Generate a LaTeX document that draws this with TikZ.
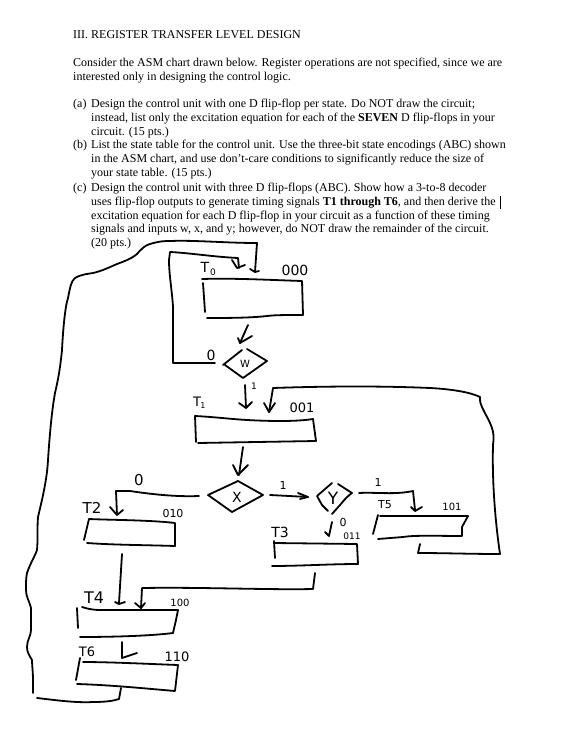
\documentclass[tikz,border=0pt]{standalone}
\usepackage{fontspec}
\setmainfont{Liberation Serif}
\setsansfont{DejaVu Sans}
\begin{document}
\begin{tikzpicture}[x=1pt,y=-1pt,
  ink/.style={line width=1.8pt,line cap=round,line join=round,black},
  txt/.style={anchor=base west,inner sep=0pt,font=\fontsize{12}{14}\selectfont,text=black},
  hand/.style={inner sep=0pt,text=black,font=\fontsize{#1}{#1}\sffamily},
  hand/.default=10]
\useasboundingbox (0,0) rectangle (580,746);
\fill[white] (0,0) rectangle (580,746);
\node[txt] (t1) at (73,39) {III. REGISTER TRANSFER LEVEL DESIGN};
\node[txt] (t2) at (73,67) {Consider the ASM chart drawn below. Register operations are not specified, since we are};
\node[txt] (t3) at (73,81) {interested only in designing the control logic.};
\node[txt] (a0) at (73,108) {(a)};
\node[txt] (a1) at (91,108) {Design the control unit with one D flip-flop per state. Do NOT draw the circuit;};
\node[txt] (a2) at (91,122) {instead, list only the excitation equation for each of the \textbf{SEVEN} D flip-flops in your};
\node[txt] (a3) at (91,135.5) {circuit. (15 pts.)};
\node[txt] (b0) at (73,149) {(b)};
\node[txt] (b1) at (91,149) {List the state table for the control unit. Use the three-bit state encodings (ABC) shown};
\node[txt] (b2) at (91,163) {in the ASM chart, and use don’t-care conditions to significantly reduce the size of};
\node[txt] (b3) at (91,177) {your state table. (15 pts.)};
\node[txt] (c0) at (73,191) {(c)};
\node[txt] (c1) at (91,191) {Design the control unit with three D flip-flops (ABC). Show how a 3-to-8 decoder};
\node[txt] (c2) at (91,205) {uses flip-flop outputs to generate timing signals \textbf{T1 through T6}, and then derive the};
\node[txt] (c3) at (91,219) {excitation equation for each D flip-flop in your circuit as a function of these timing};
\node[txt] (c4) at (91,232) {signals and inputs w, x, and y; however, do NOT draw the remainder of the circuit.};
\node[txt] (c5) at (91,246) {(20 pts.)};
\draw[line width=.7pt] (500,196) -- (500,209);
% outer left loop
\draw[ink] (33,693) -- (33,680) .. controls (33,672) and (32,665) .. (32,660) .. controls (29,655) and (27,652) .. (27,647) .. controls (27,640) and (31,636) .. (31,630) -- (31,608) .. controls (29,600) and (26,597) .. (26,590) .. controls (26,582) and (26,578) .. (27,573) .. controls (30,564) and (35,556) .. (37,550) .. controls (38,540) and (37,530) .. (38,517) .. controls (42,500) and (47,480) .. (48,460) .. controls (50,430) and (52,410) .. (55,393) .. controls (58,380) and (60,370) .. (62,350) .. controls (63,330) and (65,307) .. (68,298) .. controls (70,288) and (71,281) .. (75,278) .. controls (82,274) and (88,274) .. (93,273) .. controls (102,271) and (110,267) .. (117,264) .. controls (125,261) and (131,259) .. (137,254) .. controls (142,248) and (146,245) .. (150,244) .. controls (160,241) and (165,241) .. (170,241) .. controls (195,240) and (225,243) .. (257,243) -- (255,272);
\draw[ink] (250,269) -- (255,272) -- (259,271);
\draw[ink] (37,698) .. controls (55,700) and (75,703) .. (93,702) .. controls (105,702) and (113,701) .. (119,699) -- (121,688);
% T0 self loop
\draw[ink] (215,363) -- (173,363) -- (173,307) .. controls (172,290) and (169,275) .. (169,260) -- (170,252) .. controls (190,253) and (215,257) .. (238,258) -- (239,268);
\draw[ink] (232,260) -- (237,268) -- (245,265);
% T0 box
\draw[ink] (202,279) .. controls (235,278) and (270,280) .. (302,281) -- (303,315) .. controls (285,315) and (275,315) .. (267,316) .. controls (250,318) and (225,318) .. (207,318);
\draw[ink] (203,283) -- (205,312);
\draw[ink] (248,325) -- (240,343);
\draw[ink] (238,338) -- (240,343) -- (252,336);
% W diamond
\draw[ink] (223,365) -- (242,350) (247,349) -- (267,361) -- (243,378) -- (225,365);
\draw[ink] (245,385) -- (246,408);
\draw[ink] (239,403) -- (246,408) -- (252,402);
% loop-back from T5
\draw[ink] (269,412) -- (273,388) .. controls (330,386) and (385,386) .. (430,388) .. controls (450,389) and (470,392) .. (480,397) .. controls (480,405) and (481,403) .. (482,407) .. controls (485,414) and (488,418) .. (490,423) .. controls (494,432) and (494,437) .. (493,445) .. controls (492,480) and (495,520) .. (500,554) .. controls (470,554) and (445,553) .. (418,553) -- (420,544);
\draw[ink] (264,403) -- (269,412) -- (275,403);
% T1 box
\draw[ink] (195,416) .. controls (215,417) and (230,419) .. (247,420) .. controls (265,421) and (295,422) .. (313,419) -- (316,441) -- (198,443);
\draw[ink] (195,416) -- (196,442);
% arrow to X
\draw[ink] (243,447) -- (239,475);
\draw[ink] (233,465) -- (238,475) -- (248,465);
% X diamond
\draw[ink] (208,495) -- (238,481) -- (263,495) -- (232,512) -- (208,495);
% T2 branch
\draw[ink] (199,496) .. controls (175,497) and (150,494) .. (130,491) -- (116,491) -- (117,515);
\draw[ink] (110,507) -- (117,515) -- (123,510);
% T2 box
\draw[ink] (89,519) .. controls (110,520) and (150,520) .. (175,523) -- (175,546) .. controls (145,545) and (115,545) .. (87,543);
\draw[ink] (89,519) -- (84,540);
\draw[ink] (122,554) -- (119,603);
\draw[ink] (115,602) -- (119,604) -- (125,602);
% X to Y
\draw[ink] (270,495) -- (308,497);
\draw[ink] (298,493) -- (308,497) -- (300,499);
% Y diamond
\draw[ink] (317,496) -- (332,483) (338,484) -- (352,493) .. controls (345,498) and (342,503) .. (340,505) -- (332,514) (328,511) -- (322,505) -- (317,496);
% Y to T5
\draw[ink] (359,493) .. controls (375,492) and (395,495) .. (413,491) -- (415,510);
\draw[ink] (411,507) -- (415,511) -- (422,507);
% T5 box
\draw[ink] (380,516) -- (468,516) -- (462,527) -- (462,536) .. controls (440,536) and (415,535) .. (403,537) -- (378,539);
\draw[ink] (378,515) -- (373,534);
% T3
\draw[ink] (332,522) -- (329,536) -- (325,532);
\draw[ink] (274,543) -- (357,544) -- (358,564) .. controls (330,564) and (300,566) .. (272,566);
\draw[ink] (274,541) -- (275,558);
\draw[ink] (315,573) -- (313,589) .. controls (270,590) and (200,587) .. (142,588) -- (141,608);
% T4
\draw[ink] (135,603) -- (141,608) -- (145,603);
\draw[ink] (82,607) .. controls (88,609) and (94,610) .. (100,610) -- (178,610) -- (176,620) -- (173,633) .. controls (150,636) and (110,637) .. (80,637);
\draw[ink] (77,608) -- (78,628);
\draw[ink] (122,642) -- (122,658) -- (137,653);
% T6
\draw[ink] (83,662) .. controls (110,662) and (150,664) .. (178,665) -- (175,691) .. controls (140,688) and (110,685) .. (77,684);
\draw[ink] (80,658) -- (76,680);
% labels
\node[hand=14] (l0) at (205,267) {T};
\node[hand=9] (l0s) at (213,272) {0};
\node[hand=14] (c000) at (295,270) {000};
\node[hand=14] (n0) at (211,355) {0};
\node[hand=9] (n1) at (254,386) {1};
\node[hand=10] (w) at (245,364) {W};
\node[hand=13] (l1) at (197,402) {T};
\node[hand=8] (l1s) at (203,406) {1};
\node[hand=13] (c001) at (302,408) {001};
\node[hand=14] (x) at (237,497) {X};
\node[hand=15] (n2) at (139,480) {0};
\node[hand=11] (n3) at (283,485) {1};
\node[hand=11] (n4) at (378,482) {1};
\node[hand=17] (y) at (333,498) {Y};
\node[hand=15] (l2) at (92,508) {T2};
\node[hand=11] (c010) at (173,513) {010};
\node[hand=14] (l3) at (280,532) {T3};
\node[hand=11] (n5) at (343,522) {0};
\node[hand=9] (c011) at (352,536) {011};
\node[hand=11] (l5) at (385,505) {T5};
\node[hand=10] (c101) at (452,507) {101};
\node[hand=16] (l4) at (94,598) {T4};
\node[hand=10] (c100) at (180,603) {100};
\node[hand=13] (l6) at (87,652) {T6};
\node[hand=13] (c110) at (177,657) {110};
\end{tikzpicture}
\end{document}
